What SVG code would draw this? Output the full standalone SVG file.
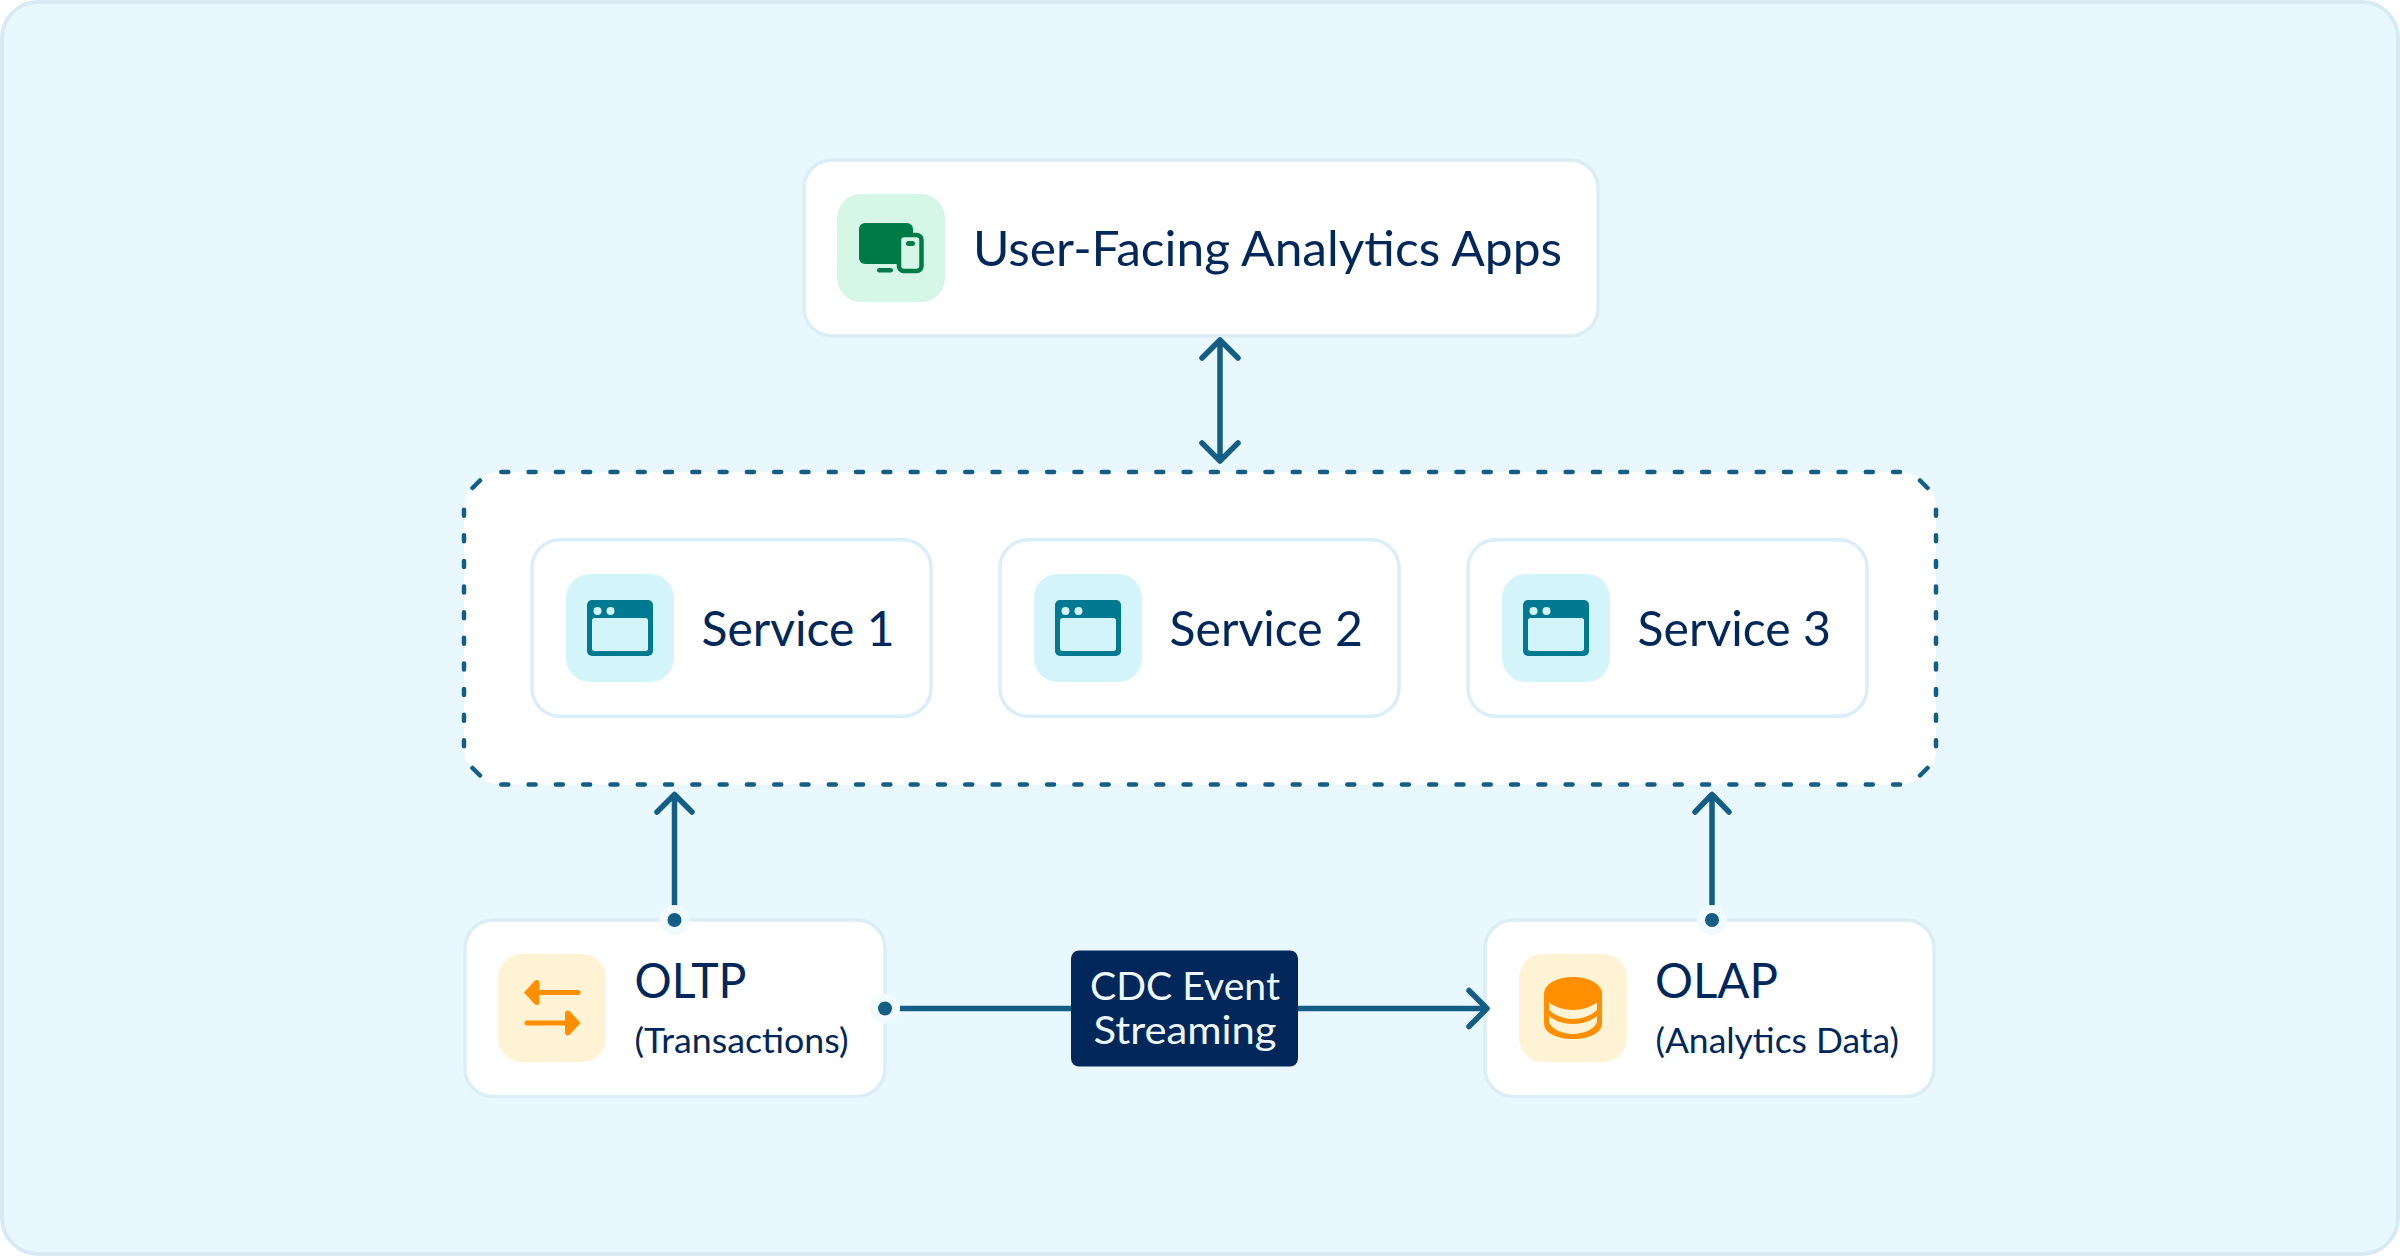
<svg xmlns="http://www.w3.org/2000/svg" width="2400" height="1256" viewBox="0 0 2400 1256">
<style>
.card{fill:#fff;stroke:#dbedf7;stroke-width:3.500}
.t{font-family:"Lato","Noto Sans",sans-serif;fill:#02275a}
.big{font-size:48px}
.sm{font-size:34px}
.cdc{font-family:"Lato","Noto Sans",sans-serif;font-size:39px;fill:#eef7fb;text-anchor:middle}
.ln{fill:none;stroke:#145e85;stroke-width:5.500;stroke-linecap:round;stroke-linejoin:round}
.dash{fill:none;stroke:#145e85;stroke-width:4.500;stroke-linecap:round}
.halo{fill:#f1faff}
.dot{fill:#145e85}
.srv{fill:#d3f4f9}
.win{fill:#007991}
.yb{fill:#fef3d4}
.or{fill:#ff8f00}
</style>
<rect x="2" y="2" width="2396" height="1252" rx="36" fill="#e9f8ff" stroke="#d8ebf5" stroke-width="4"/>

<g id="services-boundary">
<rect x="464" y="472" width="1472" height="312.500" rx="36" fill="#fff"/>
<path class="dash" stroke-dasharray="7 20.29" d="M501.3 472H1900"/>
<path class="dash" stroke-dasharray="7 20.29" d="M501.3 784.500H1900"/>
<path class="dash" stroke-dasharray="6 19.63" d="M464 509.700V750"/>
<path class="dash" stroke-dasharray="6 19.63" d="M1936 509.700V750"/>
<path class="dash" d="M472.500 488L480 480.500M472.500 768L480 775.500M1927.500 488L1920 480.500M1927.500 768L1920 775.500"/>
</g>

<g id="apps">
<rect class="card" x="804" y="160" width="794" height="176" rx="28"/>
<rect x="837" y="194" width="108" height="108" rx="24" fill="#d6f6e8"/>
<rect x="859" y="223" width="54" height="41" rx="6" fill="#007a47"/>
<rect x="899" y="235" width="22.500" height="36" rx="5" fill="#d6f6e8" stroke="#007a47" stroke-width="4.500"/>
<rect x="906" y="241" width="9" height="5" rx="2.500" fill="#007a47"/>
<rect x="877" y="268" width="16" height="4.500" rx="2.200" fill="#007a47"/>
<text class="t big" x="973" y="265.500" textLength="589" lengthAdjust="spacingAndGlyphs">User-Facing Analytics Apps</text>
</g>

<g id="service-1">
<rect class="card" x="532" y="539.700" width="399" height="176.500" rx="28"/>
<rect class="srv" x="566" y="574" width="108" height="108" rx="24"/>
<rect class="win" x="587" y="600" width="66" height="56" rx="5"/>
<rect class="srv" x="592" y="618" width="56" height="33" rx="2.500"/>
<circle class="srv" cx="597.500" cy="611" r="4"/><circle class="srv" cx="610.500" cy="611" r="4"/>
<text class="t big" x="701.500" y="645.500" textLength="193" lengthAdjust="spacingAndGlyphs">Service 1</text>
</g>
<g id="service-2">
<rect class="card" x="1000" y="539.700" width="399" height="176.500" rx="28"/>
<rect class="srv" x="1034" y="574" width="108" height="108" rx="24"/>
<rect class="win" x="1055" y="600" width="66" height="56" rx="5"/>
<rect class="srv" x="1060" y="618" width="56" height="33" rx="2.500"/>
<circle class="srv" cx="1065.500" cy="611" r="4"/><circle class="srv" cx="1078.500" cy="611" r="4"/>
<text class="t big" x="1169.500" y="645.500" textLength="193.500" lengthAdjust="spacingAndGlyphs">Service 2</text>
</g>
<g id="service-3">
<rect class="card" x="1468" y="539.700" width="399" height="176.500" rx="28"/>
<rect class="srv" x="1502" y="574" width="108" height="108" rx="24"/>
<rect class="win" x="1523" y="600" width="66" height="56" rx="5"/>
<rect class="srv" x="1528" y="618" width="56" height="33" rx="2.500"/>
<circle class="srv" cx="1533.500" cy="611" r="4"/><circle class="srv" cx="1546.500" cy="611" r="4"/>
<text class="t big" x="1637.500" y="645.500" textLength="193.500" lengthAdjust="spacingAndGlyphs">Service 3</text>
</g>

<g id="oltp">
<rect class="card" x="465" y="920" width="420" height="176.500" rx="28"/>
<rect class="yb" x="498" y="954" width="108" height="108" rx="24"/>
<path class="or" d="M524 992.500L535 980.500Q539 979 539.500 983V990H578a2.500 2.500 0 0 1 0 5H539.500V1002Q539 1006 535 1004.500Z"/>
<path class="or" d="M580.500 1023L569.500 1011Q565.500 1009.500 565 1013.500V1020.500H527a2.500 2.500 0 0 0 0 5H565V1032.500Q565.500 1036.500 569.500 1035Z"/>
<text class="t big" x="634.500" y="997.500" textLength="112" lengthAdjust="spacingAndGlyphs">OLTP</text>
<text class="t sm" x="634.500" y="1052.500" textLength="214" lengthAdjust="spacingAndGlyphs">(Transactions)</text>
</g>

<g id="olap">
<rect class="card" x="1485" y="920" width="449" height="176.500" rx="28"/>
<rect class="yb" x="1519" y="954" width="108" height="108" rx="24"/>
<path class="or" d="M1544 994C1544 984 1557 977 1573 977S1602 984 1602 994V1023C1602 1033 1589 1039 1573 1039S1544 1033 1544 1023Z"/>
<path class="yb" d="M1549 1002.500C1555 1007 1564 1010 1573 1010S1591 1007 1597 1002.500V1010C1591 1015.500 1582 1019 1573 1019S1555 1015.500 1549 1010Z"/>
<path class="yb" d="M1549 1016C1555 1021 1564 1024 1573 1024S1591 1021 1597 1016V1022C1595 1029 1584 1034 1573 1034S1551 1029 1549 1022Z"/>
<text class="t big" x="1655" y="997.500" textLength="123" lengthAdjust="spacingAndGlyphs">OLAP</text>
<text class="t sm" x="1655.500" y="1052.500" textLength="243.500" lengthAdjust="spacingAndGlyphs">(Analytics Data)</text>
</g>

<g id="connectors">
<path class="ln" d="M1220 341V459M1202 358L1220 340L1238 358M1202 443L1220 461L1238 443"/>
<path class="ln" d="M674.500 904V796M657 812L674.500 794.500L692 812"/>
<path class="ln" d="M1712 904V796M1695 812L1712 794.500L1729 812"/>
<path class="ln" d="M900 1008.500H1485M1469 990.500L1487 1008.500L1469 1026.500"/>
</g>

<g id="cdc-label">
<rect x="1071" y="950.500" width="227" height="116" rx="8" fill="#02275a"/>
<text class="cdc" x="1185" y="999.500" textLength="190" lengthAdjust="spacingAndGlyphs">CDC Event</text>
<text class="cdc" x="1185" y="1043.500" textLength="183" lengthAdjust="spacingAndGlyphs">Streaming</text>
</g>

<g id="ports">
<circle class="halo" cx="674.500" cy="920" r="15"/><circle class="dot" cx="674.500" cy="920" r="7"/>
<circle class="halo" cx="885" cy="1008.500" r="15"/><circle class="dot" cx="885" cy="1008.500" r="7"/>
<circle class="halo" cx="1712" cy="920" r="15"/><circle class="dot" cx="1712" cy="920" r="7"/>
</g>
</svg>
